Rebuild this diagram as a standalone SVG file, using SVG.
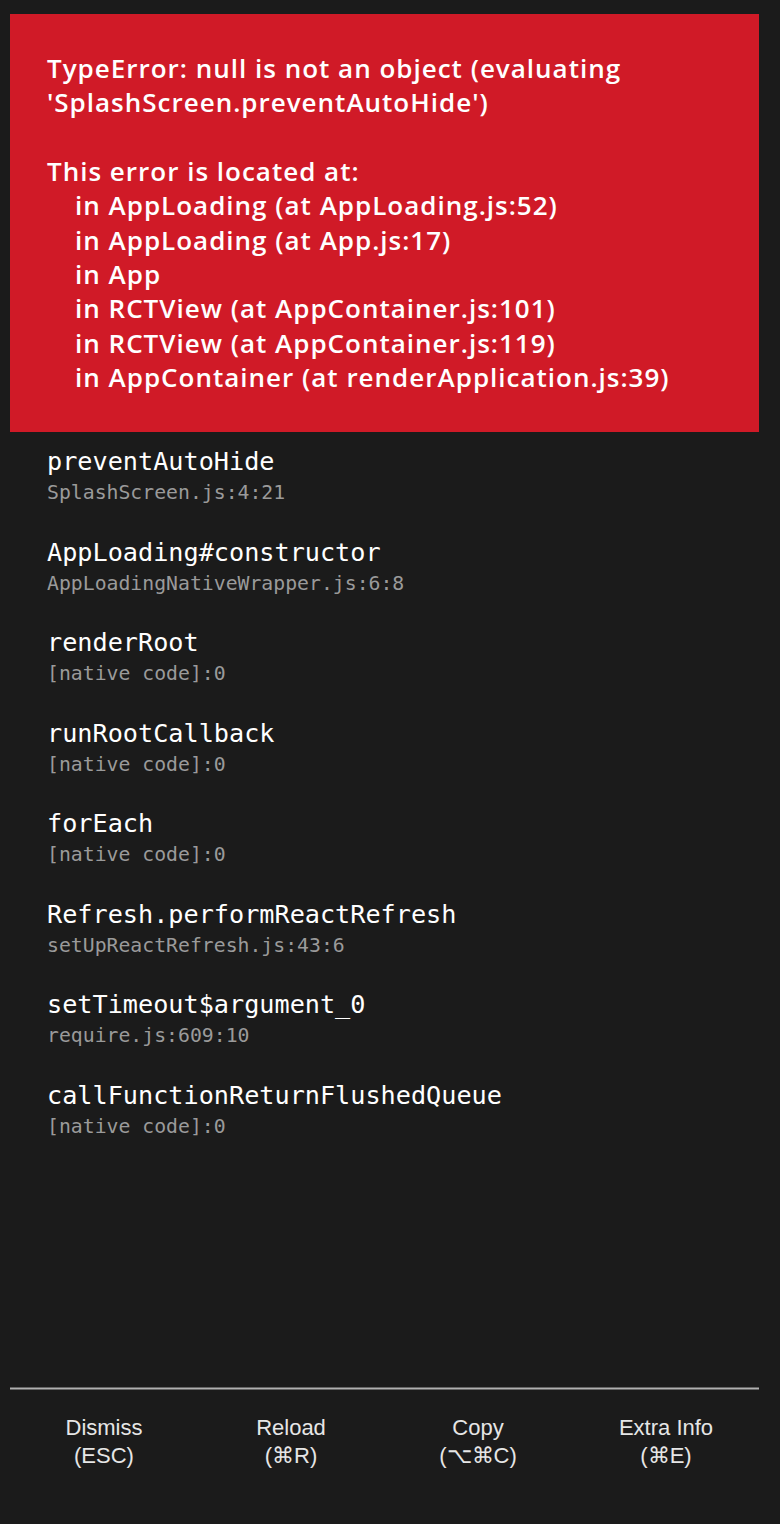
<svg xmlns="http://www.w3.org/2000/svg" width="780" height="1524" viewBox="0 0 780 1524">
<style>
.t{font-family:"Open Sans","Liberation Sans",Arial,sans-serif;font-size:26px;font-weight:600;fill:#fff;letter-spacing:1px}
.f{font-family:"DejaVu Sans Mono",monospace;font-size:25.2px;fill:#fff}
.s{font-family:"DejaVu Sans Mono",monospace;font-size:19.8px;fill:#9a9a9a}
.b{font-family:"Liberation Sans",Arial,sans-serif;font-size:22px;fill:#e6e6e6;text-anchor:middle}
</style>
<rect width="780" height="1524" fill="#1b1b1b"/>
<g id="header">
<rect x="10" y="14" width="749" height="418" fill="#d01a27"/>
<text class="t" x="47" y="78">TypeError: null is not an object (evaluating</text>
<text class="t" x="47" y="112">'SplashScreen.preventAutoHide')</text>
<text class="t" x="47" y="181">This error is located at:</text>
<text class="t" x="75" y="215">in AppLoading (at AppLoading.js:52)</text>
<text class="t" x="75" y="250">in AppLoading (at App.js:17)</text>
<text class="t" x="75" y="284">in App</text>
<text class="t" x="75" y="318">in RCTView (at AppContainer.js:101)</text>
<text class="t" x="75" y="353">in RCTView (at AppContainer.js:119)</text>
<text class="t" x="75" y="387">in AppContainer (at renderApplication.js:39)</text>
</g>
<g id="stack">
<text class="f" x="47" y="470">preventAutoHide</text><text class="s" x="47" y="499">SplashScreen.js:4:21</text>
<text class="f" x="47" y="561">AppLoading#constructor</text><text class="s" x="47" y="590">AppLoadingNativeWrapper.js:6:8</text>
<text class="f" x="47" y="651">renderRoot</text><text class="s" x="47" y="680">[native code]:0</text>
<text class="f" x="47" y="742">runRootCallback</text><text class="s" x="47" y="771">[native code]:0</text>
<text class="f" x="47" y="832">forEach</text><text class="s" x="47" y="861">[native code]:0</text>
<text class="f" x="47" y="923">Refresh.performReactRefresh</text><text class="s" x="47" y="952">setUpReactRefresh.js:43:6</text>
<text class="f" x="47" y="1013">setTimeout$argument_0</text><text class="s" x="47" y="1042">require.js:609:10</text>
<text class="f" x="47" y="1104">callFunctionReturnFlushedQueue</text><text class="s" x="47" y="1133">[native code]:0</text>
</g>
<g id="footer">
<line x1="10" y1="1388.5" x2="759" y2="1388.5" stroke="#b0b0b0" stroke-width="2"/>
<text class="b" x="104" y="1435">Dismiss</text><text class="b" x="104" y="1463">(ESC)</text>
<text class="b" x="291" y="1435">Reload</text><text class="b" x="291" y="1463">(⌘R)</text>
<text class="b" x="478" y="1435">Copy</text><text class="b" x="478" y="1463">(⌥⌘C)</text>
<text class="b" x="666" y="1435">Extra Info</text><text class="b" x="666" y="1463">(⌘E)</text>
</g>
</svg>
